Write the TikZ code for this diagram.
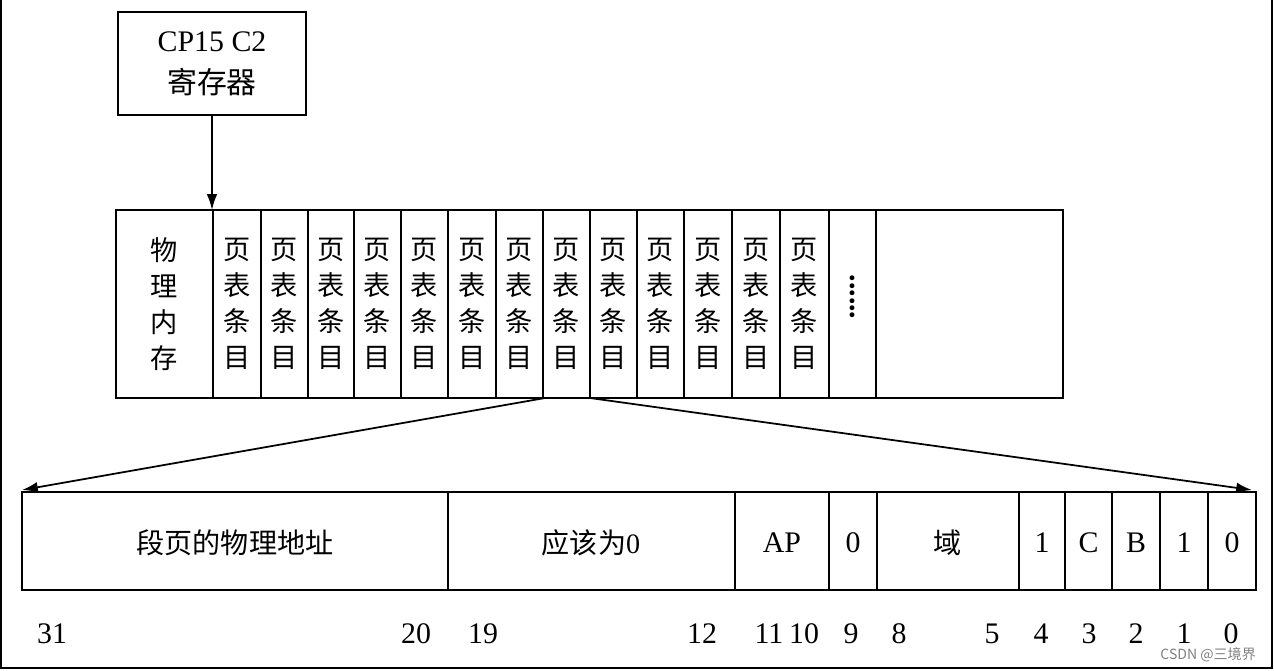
\documentclass[tikz,border=0pt]{standalone}
\usepackage{fontspec}
\usetikzlibrary{arrows.meta}
\setmainfont{Liberation Serif}
\newfontfamily\cjk{Noto Sans CJK SC}
\begin{document}
\begin{tikzpicture}[x=0.02cm,y=-0.02cm,
  box/.style={draw,line width=1.2pt,inner sep=0},
  lab/.style={font=\fontsize{17}{19}\selectfont},
  vtxt/.style={font=\cjk\fontsize{15.5}{20.5}\selectfont,align=center},
  arr/.style={-{Latex[length=9pt,width=6pt]},line width=1pt}]
\useasboundingbox (0,0) rectangle (1274,670);
\draw[line width=1pt] (1,0) -- (1,668) -- (1272,668) -- (1272,0);
% CP15 box
\node[box,minimum width=188*0.02cm,minimum height=103*0.02cm,align=center,font=\fontsize{17}{24}\selectfont] (cp) at (212,63.5) {CP15 C2\\{\cjk 寄存器}};
% memory row
\node[box,minimum width=947*0.02cm,minimum height=188*0.02cm] (mem) at (589.5,304) {};
\foreach \x in {213,261,308,354,401,448,496,543,590,637,684,732,780,829,876}
  \draw[line width=1.2pt] (\x,210) -- (\x,398);
\node[vtxt] (m0) at (164.5,304) {物\\理\\内\\存};
\foreach \a/\b [count=\i] in {213/261,261/308,308/354,354/401,401/448,448/496,496/543,543/590,590/637,637/684,684/732,732/780,780/829}
  \node[vtxt] (p\i) at ({(\a+\b)/2},304) {页\\表\\条\\目};
\node[rotate=-90,font=\fontsize{17}{19}\selectfont,inner sep=0] (dots) at (852.5,297) {\textbf{......}};
\draw[arr] (cp.south) -- (212,210);
% bottom row
\node[box,minimum width=1234*0.02cm,minimum height=98*0.02cm] (reg) at (639,541) {};
\foreach \x in {448,735,829,877,1019,1065,1112,1160,1208}
  \draw[line width=1.2pt] (\x,492) -- (\x,590);
\coordinate (s1) at (545,398);
\coordinate (s2) at (590,398);
\coordinate (e1) at (22,490);
\coordinate (e2) at (1252,490);
\draw[arr] (s1) -- (e1);
\draw[arr] (s2) -- (e2);
\node[font=\cjk\fontsize{16}{18}\selectfont] (f1) at (235,543) {段页的物理地址};
\node[font=\cjk\fontsize{16}{18}\selectfont] (f2) at (591,543) {应该为\fontspec{Liberation Serif}0};
\node[lab] (f3) at (782,543) {AP};
\node[lab] (f4) at (853,543) {0};
\node[font=\cjk\fontsize{16}{18}\selectfont] (f5) at (948,543) {域};
\node[lab] (f6) at (1042,543) {1};
\node[lab] (f7) at (1088.5,543) {C};
\node[lab] (f8) at (1136,543) {B};
\node[lab] (f9) at (1184,543) {1};
\node[lab] (f10) at (1232,543) {0};
\foreach \x/\t in {52/31,416/20,483/19,702/12,769/11,804/10,851/9,899/8,992/5,1041/4,1089/3,1136/2,1184/1,1231/0}
  \node[lab] at (\x,634) {\t};
\node[text=gray,font=\cjk\fontsize{8}{9}\selectfont,anchor=east] (wm) at (1262,655) {CSDN @三境界};
\end{tikzpicture}
\end{document}
